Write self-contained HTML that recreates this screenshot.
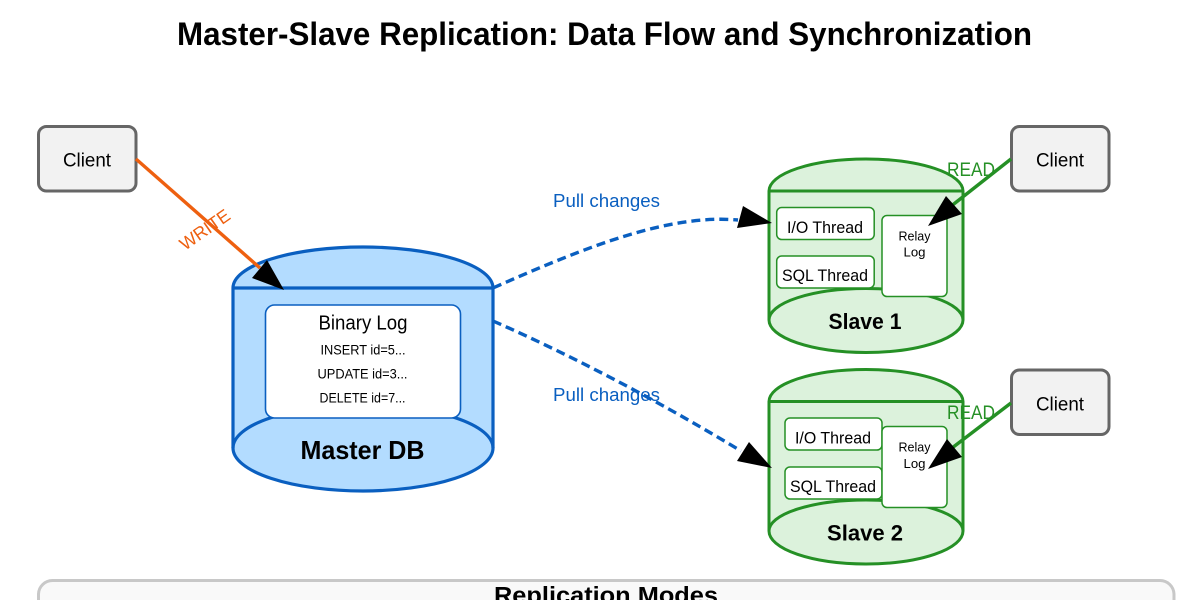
<!DOCTYPE html>
<html>
<head>
<meta charset="utf-8">
<style>
html,body{margin:0;padding:0;background:#fff;width:1200px;height:600px;overflow:hidden}
svg{display:block}
text{font-family:"Liberation Sans",Arial,sans-serif}
</style>
</head>
<body>
<svg width="1200" height="600" viewBox="0 0 1200 600" xmlns="http://www.w3.org/2000/svg">
<rect width="1200" height="600" fill="#fff"/>
<text x="604.5" y="45" text-anchor="middle" font-size="32" font-weight="700" textLength="855" lengthAdjust="spacingAndGlyphs" fill="#000">Master-Slave Replication: Data Flow and Synchronization</text>

<!-- Master -->
<path d="M233 288 A130 41 0 0 1 493 288 V448 A130 43 0 0 1 233 448 Z" fill="#b3dcff" stroke="#0a5fc0" stroke-width="3.2"/>
<path d="M233 288 H493" fill="none" stroke="#0a5fc0" stroke-width="3.2"/>
<path d="M233 448 A130 43 0 0 1 493 448" fill="none" stroke="#0a5fc0" stroke-width="3.2"/>
<rect x="265.5" y="305" width="195" height="113" rx="9" fill="#fff" stroke="#0a5fc0" stroke-width="1.6"/>
<text x="363" y="329.5" text-anchor="middle" font-size="20" textLength="89" lengthAdjust="spacingAndGlyphs">Binary Log</text>
<text x="363" y="354.5" text-anchor="middle" font-size="14" textLength="85" lengthAdjust="spacingAndGlyphs">INSERT id=5...</text>
<text x="362.5" y="378.5" text-anchor="middle" font-size="14" textLength="90" lengthAdjust="spacingAndGlyphs">UPDATE id=3...</text>
<text x="362.5" y="402.5" text-anchor="middle" font-size="14" textLength="86" lengthAdjust="spacingAndGlyphs">DELETE id=7...</text>
<text x="362.5" y="459" text-anchor="middle" font-size="26" font-weight="700" textLength="124" lengthAdjust="spacingAndGlyphs">Master DB</text>

<!-- Slave 1 -->
<path d="M769 191 A97 32 0 0 1 963 191 V320 A97 32.5 0 0 1 769 320 Z" fill="#dcf2dc" stroke="#259025" stroke-width="3"/>
<path d="M769 191 H963" fill="none" stroke="#259025" stroke-width="3"/>
<path d="M769 320 A97 31.5 0 0 1 963 320" fill="none" stroke="#259025" stroke-width="3"/>
<rect x="776.7" y="207.5" width="97.5" height="32" rx="5" fill="#fff" stroke="#259025" stroke-width="1.5"/>
<text x="825" y="233" text-anchor="middle" font-size="17" textLength="76" lengthAdjust="spacingAndGlyphs">I/O Thread</text>
<rect x="776.7" y="256" width="97.5" height="32" rx="5" fill="#fff" stroke="#259025" stroke-width="1.5"/>
<text x="825" y="281" text-anchor="middle" font-size="17" textLength="86" lengthAdjust="spacingAndGlyphs">SQL Thread</text>
<rect x="882" y="215.5" width="65" height="81" rx="5" fill="#fff" stroke="#259025" stroke-width="1.5"/>
<text x="914.5" y="240.5" text-anchor="middle" font-size="13" textLength="32" lengthAdjust="spacingAndGlyphs">Relay</text>
<text x="914.5" y="256.5" text-anchor="middle" font-size="13" textLength="22" lengthAdjust="spacingAndGlyphs">Log</text>
<text x="865" y="329" text-anchor="middle" font-size="22" font-weight="700" textLength="73" lengthAdjust="spacingAndGlyphs">Slave 1</text>

<!-- Slave 2 -->
<path d="M769 401.5 A97 32 0 0 1 963 401.5 V531 A97 33 0 0 1 769 531 Z" fill="#dcf2dc" stroke="#259025" stroke-width="3"/>
<path d="M769 401.5 H963" fill="none" stroke="#259025" stroke-width="3"/>
<path d="M769 531 A97 31 0 0 1 963 531" fill="none" stroke="#259025" stroke-width="3"/>
<rect x="785" y="418" width="97" height="32" rx="5" fill="#fff" stroke="#259025" stroke-width="1.5"/>
<text x="833" y="443.5" text-anchor="middle" font-size="17" textLength="76" lengthAdjust="spacingAndGlyphs">I/O Thread</text>
<rect x="785" y="467" width="97" height="32" rx="5" fill="#fff" stroke="#259025" stroke-width="1.5"/>
<text x="833" y="492" text-anchor="middle" font-size="17" textLength="86" lengthAdjust="spacingAndGlyphs">SQL Thread</text>
<rect x="882" y="426.5" width="65" height="81" rx="5" fill="#fff" stroke="#259025" stroke-width="1.5"/>
<text x="914.5" y="451.5" text-anchor="middle" font-size="13" textLength="32" lengthAdjust="spacingAndGlyphs">Relay</text>
<text x="914.5" y="468" text-anchor="middle" font-size="13" textLength="22" lengthAdjust="spacingAndGlyphs">Log</text>
<text x="865" y="540.5" text-anchor="middle" font-size="22" font-weight="700" textLength="76" lengthAdjust="spacingAndGlyphs">Slave 2</text>

<!-- Clients -->
<rect x="38.5" y="126.5" width="97.5" height="64.5" rx="8" fill="#f2f2f2" stroke="#666" stroke-width="3"/>
<text x="87" y="166.5" text-anchor="middle" font-size="19" textLength="48" lengthAdjust="spacingAndGlyphs">Client</text>
<rect x="1011.5" y="126.5" width="97.5" height="64.5" rx="8" fill="#f2f2f2" stroke="#666" stroke-width="3"/>
<text x="1060" y="166.5" text-anchor="middle" font-size="19" textLength="48" lengthAdjust="spacingAndGlyphs">Client</text>
<rect x="1011.5" y="370" width="97.5" height="64.5" rx="8" fill="#f2f2f2" stroke="#666" stroke-width="3"/>
<text x="1060" y="410.5" text-anchor="middle" font-size="19" textLength="48" lengthAdjust="spacingAndGlyphs">Client</text>

<!-- Write -->
<path d="M136 159 L260 268" fill="none" stroke="#ee6010" stroke-width="3.4"/>
<polygon points="284,290 267,260 252,278" fill="#000"/>
<text transform="translate(185,251) rotate(-35)" font-size="18" fill="#ee6010" textLength="57" lengthAdjust="spacingAndGlyphs">WRITE</text>

<!-- Read -->
<path d="M1011 159 L950 207" fill="none" stroke="#259025" stroke-width="3.4"/>
<polygon points="928,226 946,196 962,214" fill="#000"/>
<text x="947" y="176" font-size="19" fill="#259025" textLength="48" lengthAdjust="spacingAndGlyphs">READ</text>
<path d="M1011 403 L952 448" fill="none" stroke="#259025" stroke-width="3.4"/>
<polygon points="928,469 947,439 962,457" fill="#000"/>
<text x="947" y="419" font-size="19" fill="#259025" textLength="48" lengthAdjust="spacingAndGlyphs">READ</text>

<!-- Pull -->
<path d="M493 288 C590 245 670 214 738 220" fill="none" stroke="#0a5fc0" stroke-width="3.4" stroke-dasharray="9 5"/>
<polygon points="772,223 743,206 737,228" fill="#000"/>
<text x="553" y="207" font-size="18" fill="#0a5fc0" textLength="107" lengthAdjust="spacingAndGlyphs">Pull changes</text>
<path d="M493 321 C575 357 660 402 741 451" fill="none" stroke="#0a5fc0" stroke-width="3.4" stroke-dasharray="9 5"/>
<polygon points="772,468 749,442 737,461" fill="#000"/>
<text x="553" y="401" font-size="18" fill="#0a5fc0" textLength="107" lengthAdjust="spacingAndGlyphs">Pull changes</text>

<!-- Replication Modes panel -->
<path d="M38.5 600 V594 A14 14 0 0 1 52.5 580.5 H1160 A14 14 0 0 1 1174 594 V600 Z" fill="#f9f9f9"/>
<path d="M38.5 600 V594 A14 14 0 0 1 52.5 580.5 H1160 A14 14 0 0 1 1174 594 V600" fill="none" stroke="#c8c8c8" stroke-width="3"/>
<text x="606" y="603.5" text-anchor="middle" font-size="24" font-weight="700" textLength="224" lengthAdjust="spacingAndGlyphs">Replication Modes</text>
</svg>
</body>
</html>
